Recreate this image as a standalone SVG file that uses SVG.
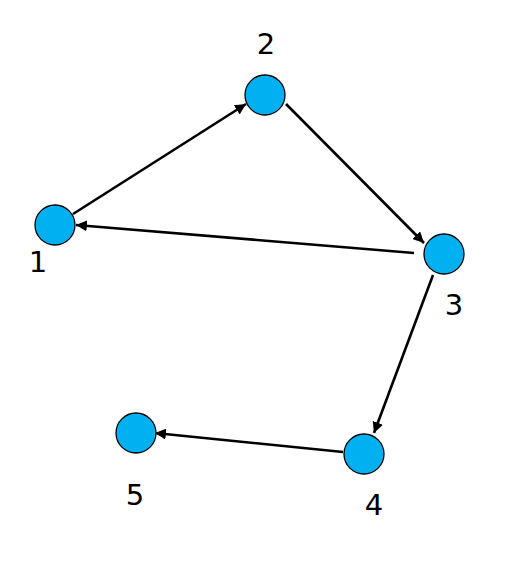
<svg xmlns="http://www.w3.org/2000/svg" width="518" height="561" viewBox="0 0 518 561">
<style>
.node circle{fill:#00B0F0;stroke:#000;stroke-width:1.3}
.node text{font-family:"DejaVu Sans",Verdana,sans-serif;font-size:29px;fill:#000;text-anchor:middle}
#edges line{stroke:#000;stroke-width:2.6}
</style>
<defs>
<marker id="arr" viewBox="0 0 10 10" refX="10" refY="5" markerWidth="4.2" markerHeight="4.2" orient="auto" markerUnits="strokeWidth">
<path d="M0,0 L10,5 L0,10 z" fill="#000"/>
</marker>
</defs>
<rect width="518" height="561" fill="#fff"/>
<g id="edges">
<line x1="73" y1="214" x2="246" y2="104" marker-end="url(#arr)"/>
<line x1="286" y1="104" x2="424" y2="243" marker-end="url(#arr)"/>
<line x1="414" y1="253" x2="76" y2="225" marker-end="url(#arr)"/>
<line x1="433" y1="275" x2="374" y2="433" marker-end="url(#arr)"/>
<line x1="343" y1="452" x2="155" y2="433" marker-end="url(#arr)"/>
</g>
<g id="node1" class="node"><circle cx="55" cy="225" r="20"/><text x="38" y="272">1</text></g>
<g id="node2" class="node"><circle cx="265" cy="95" r="20"/><text x="266" y="54">2</text></g>
<g id="node3" class="node"><circle cx="444" cy="254" r="20"/><text x="454" y="315">3</text></g>
<g id="node4" class="node"><circle cx="364" cy="454" r="20"/><text x="374" y="515">4</text></g>
<g id="node5" class="node"><circle cx="136" cy="433" r="20"/><text x="135" y="505">5</text></g>
</svg>
